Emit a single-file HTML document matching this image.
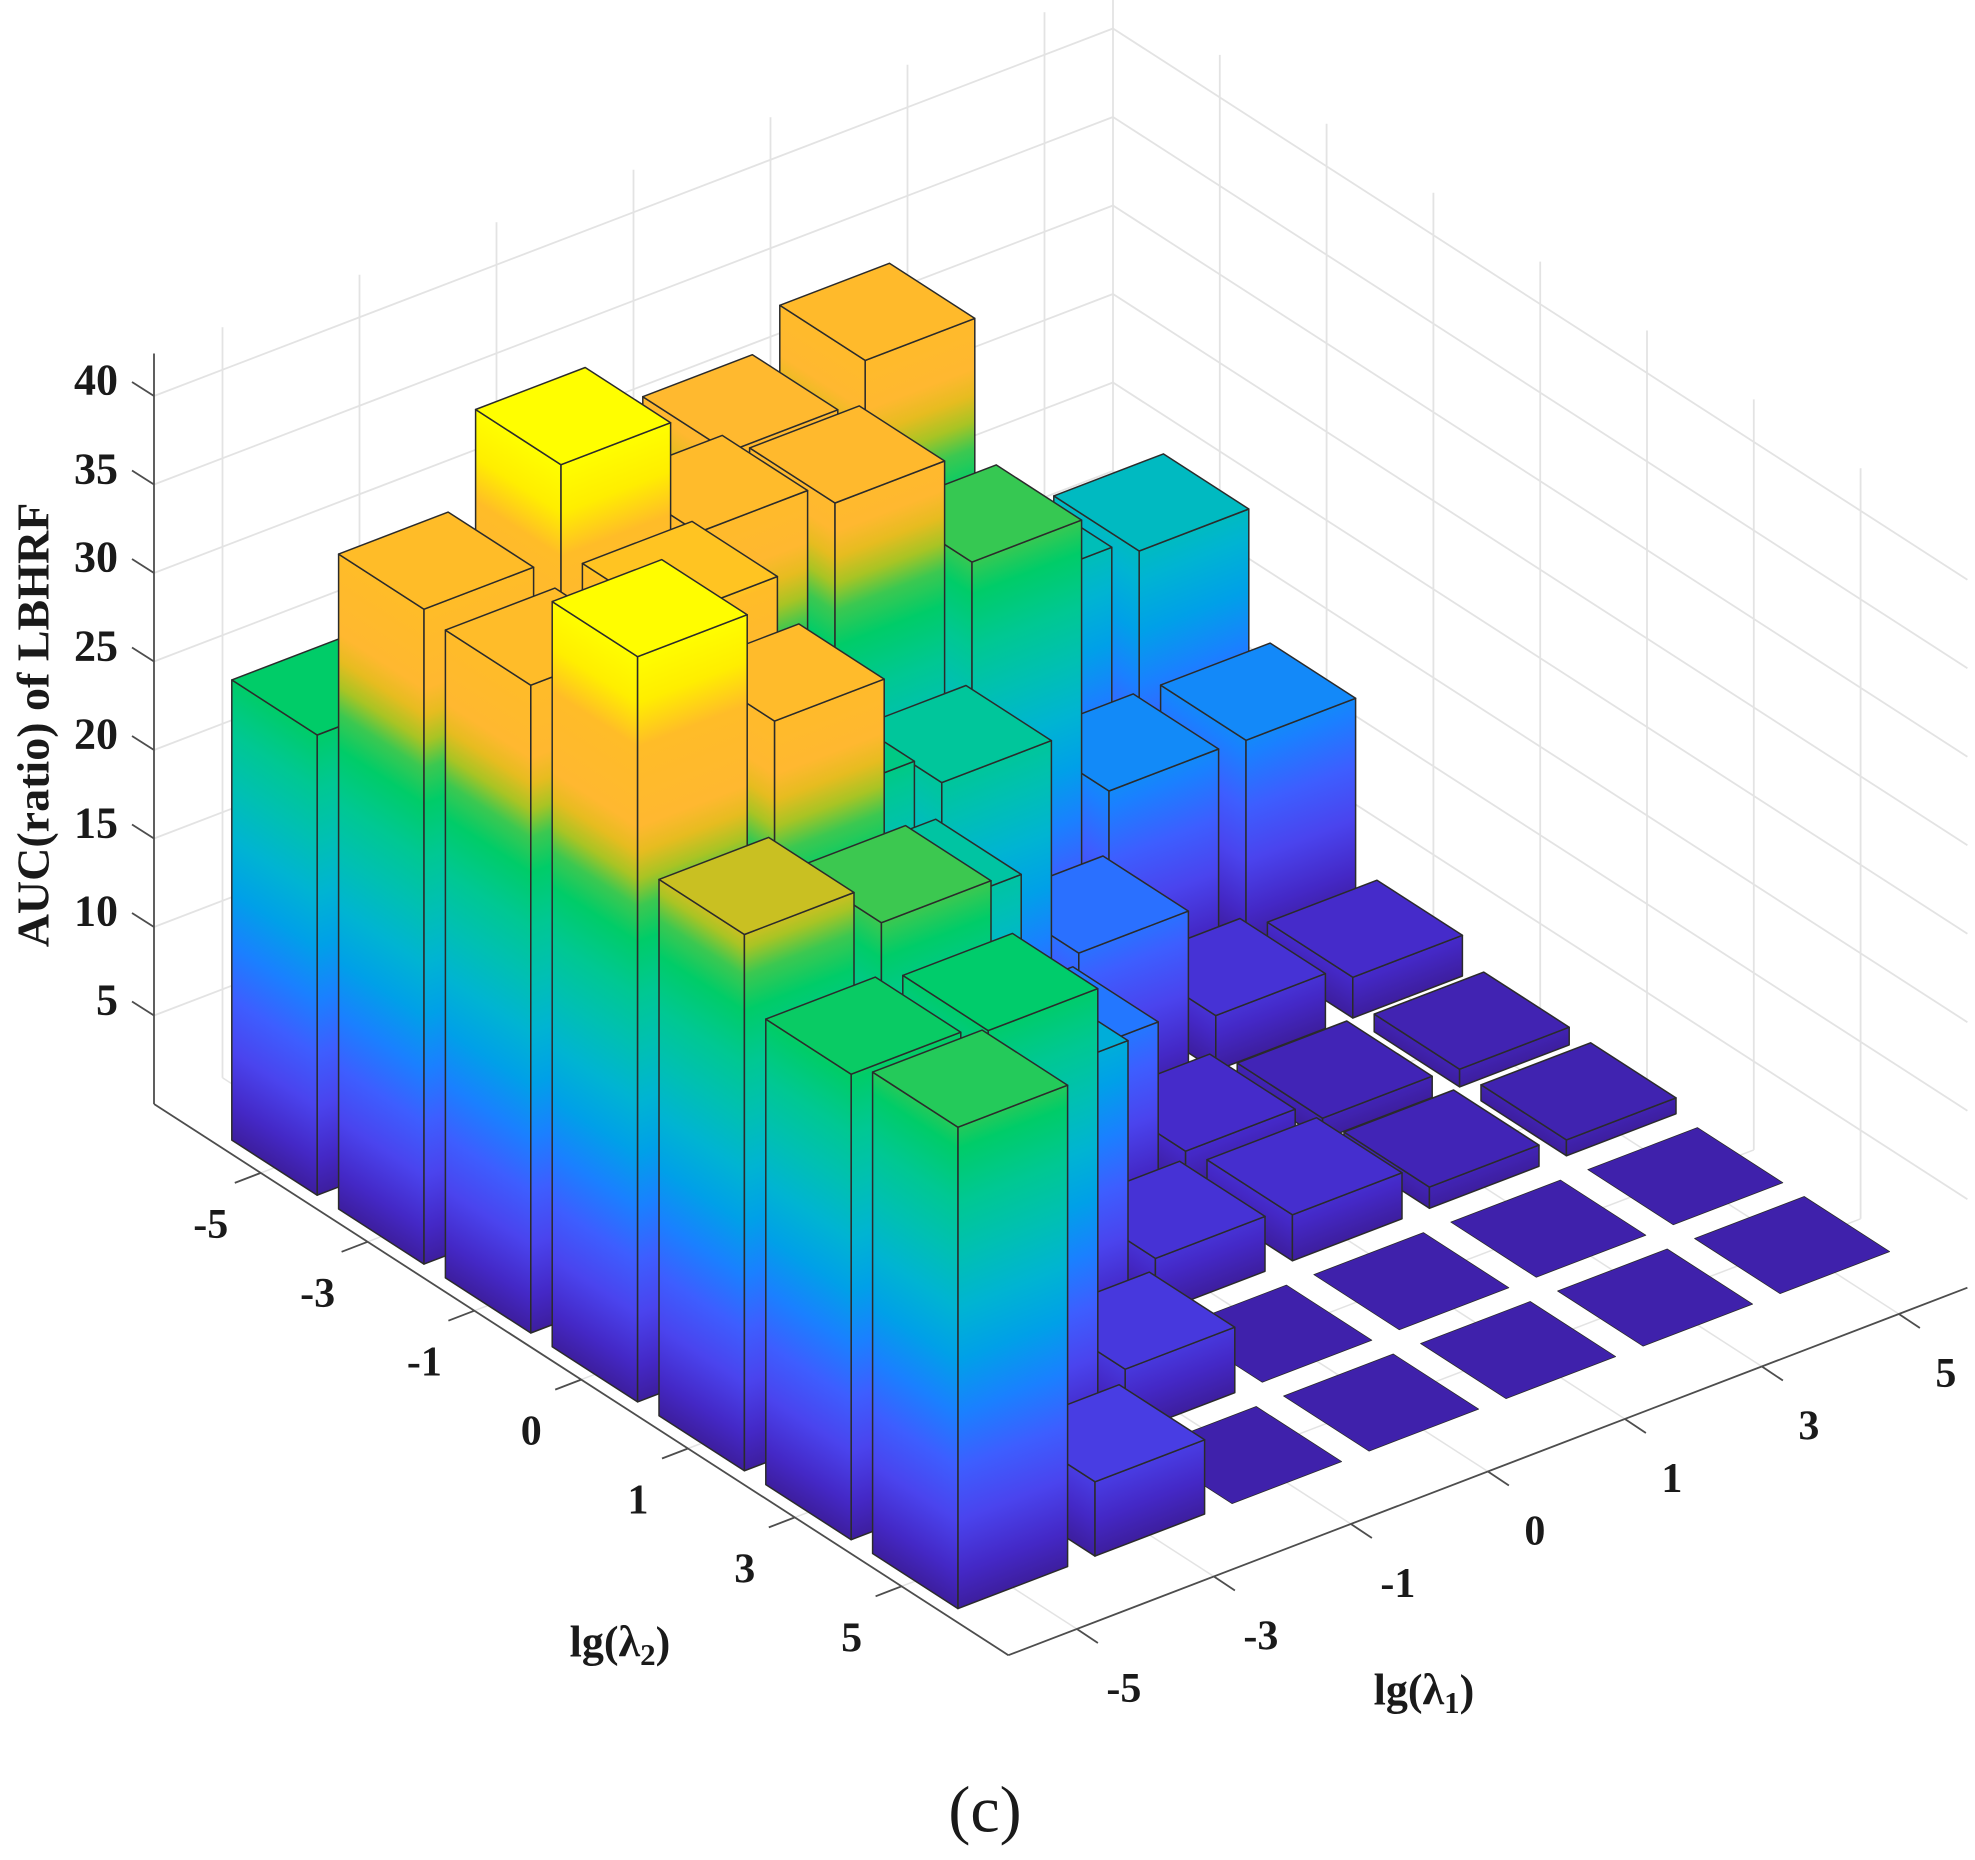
<!DOCTYPE html>
<html><head><meta charset="utf-8"><style>
html,body{margin:0;padding:0;background:#fff;}
svg{display:block;}
text{font-family:"Liberation Serif",serif;fill:#1a1a1a;}
</style></head><body>
<svg id="s" xmlns="http://www.w3.org/2000/svg" width="1975" height="1860" viewBox="0 0 1975 1860">
<rect width="1975" height="1860" fill="#fff"/>
<defs id="d"></defs>
<g id="grid"></g>
<g id="bars"></g>
<g id="txt" font-weight="bold" font-size="42">
<g font-size="44">
<text x="118" y="1000" text-anchor="end" dominant-baseline="central">5</text>
<text x="118" y="911" text-anchor="end" dominant-baseline="central">10</text>
<text x="118" y="823" text-anchor="end" dominant-baseline="central">15</text>
<text x="118" y="734" text-anchor="end" dominant-baseline="central">20</text>
<text x="118" y="646" text-anchor="end" dominant-baseline="central">25</text>
<text x="118" y="557" text-anchor="end" dominant-baseline="central">30</text>
<text x="118" y="469" text-anchor="end" dominant-baseline="central">35</text>
<text x="118" y="380" text-anchor="end" dominant-baseline="central">40</text>
</g>
<text transform="translate(33,725) rotate(-90)" text-anchor="middle" dominant-baseline="central" font-size="46">AUC(ratio) of LBHRF</text>
<text x="620" y="1642" text-anchor="middle" dominant-baseline="central" font-size="44">lg(λ<tspan font-size="31" dy="12">2</tspan><tspan dy="-12">)</tspan></text>
<text x="1424" y="1690" text-anchor="middle" dominant-baseline="central" font-size="44">lg(λ<tspan font-size="31" dy="12">1</tspan><tspan dy="-12">)</tspan></text>
<text x="985" y="1810" text-anchor="middle" dominant-baseline="central" font-size="66" font-weight="normal">(c)</text>
</g>
</svg>
<script>
(function(){
var NS="http://www.w3.org/2000/svg";
function P(i,j,z){return [154+(i+1)*106.8+(j+0.5)*137, 1104+(i+1)*68.9-(j+0.5)*52.5-17.7*z];}
function el(tag,attrs,parent){var e=document.createElementNS(NS,tag);for(var k in attrs)e.setAttribute(k,attrs[k]);parent.appendChild(e);return e;}
var grid=document.getElementById('grid'),bars=document.getElementById('bars'),defs=document.getElementById('d'),txt=document.getElementById('txt');
function line(a,b,c,w,p){el('line',{x1:a[0].toFixed(1),y1:a[1].toFixed(1),x2:b[0].toFixed(1),y2:b[1].toFixed(1),stroke:c,'stroke-width':w},p||grid);}
var ZT=42.4,GC='#e3e3e3';
for(var j=0;j<7;j++)line(P(-1,j,0),P(7,j,0),GC,1.5);
for(var i=0;i<7;i++)line(P(i,-0.5,0),P(i,6.5,0),GC,1.5);
for(var z=5;z<=40;z+=5){line(P(-1,-0.5,z),P(-1,6.5,z),GC,1.8);line(P(-1,6.5,z),P(7,6.5,z),GC,1.8);}
for(var j=0;j<7;j++)line(P(-1,j,0),P(-1,j,ZT),GC,1.8);
for(var i=0;i<7;i++)line(P(i,6.5,0),P(i,6.5,ZT),GC,1.8);
line(P(-1,6.5,0),P(-1,6.5,ZT),GC,1.8);
var AC='#4d4d4d';
line(P(-1,-0.5,0),P(-1,-0.5,ZT),AC,1.8);
line(P(-1,-0.5,0),P(7,-0.5,0),AC,1.8);
line(P(7,-0.5,0),P(7,6.5,0),AC,1.8);
for(var z=5;z<=40;z+=5){var a=P(-1,-0.5,z);line(a,[a[0]-22,a[1]-14],AC,1.8);}
var labs=['-5','-3','-1','0','1','3','5'];
for(var i=0;i<7;i++){var a=P(i,-0.5,0);line(a,[a[0]-26,a[1]+10],AC,1.8);
 var t=el('text',{x:(a[0]-50).toFixed(1),y:(a[1]+52).toFixed(1),'text-anchor':'middle','dominant-baseline':'central'},txt);t.textContent=labs[i];}
for(var j=0;j<7;j++){var a=P(7,j,0);line(a,[a[0]+21,a[1]+14],AC,1.8);
 var t=el('text',{x:(a[0]+47).toFixed(1),y:(a[1]+60).toFixed(1),'text-anchor':'middle','dominant-baseline':'central'},txt);t.textContent=labs[j];}
var CM=[[0,'#3d1e9e'],[2,'#4428c6'],[5,'#4a44ee'],[8,'#3d5eff'],[11,'#1a80ff'],[14,'#00a0e8'],[17,'#00b4d2'],[20,'#00c0b2'],[23,'#00c892'],[26,'#00cc68'],[28,'#3cc850'],[29.5,'#a8c424'],[31,'#e6bc20'],[32.5,'#ffb830'],[37,'#ffbc28'],[39.5,'#ffee00'],[42.4,'#ffff00']];
function hex(c){return [parseInt(c.substr(1,2),16),parseInt(c.substr(3,2),16),parseInt(c.substr(5,2),16)];}
function cmap(z){if(z<=0)return CM[0][1];for(var k=1;k<CM.length;k++){if(z<=CM[k][0]){var a=hex(CM[k-1][1]),b=hex(CM[k][1]),f=(z-CM[k-1][0])/(CM[k][0]-CM[k-1][0]);return 'rgb('+[0,1,2].map(function(q){return Math.round(a[q]+(b[q]-a[q])*f);}).join(',')+')';}}return CM[CM.length-1][1];}
var gid=0;
function grad(p0,d){var len=Math.hypot(d[0],d[1]);var n=[d[1]/len,-d[0]/len];if(n[1]>0)n=[-n[0],-n[1]];
 var t=ZT*17.7*(-n[1]);var id='g'+(gid++);
 var g=el('linearGradient',{id:id,gradientUnits:'userSpaceOnUse',x1:p0[0].toFixed(1),y1:p0[1].toFixed(1),x2:(p0[0]+n[0]*t).toFixed(1),y2:(p0[1]+n[1]*t).toFixed(1)},defs);
 CM.forEach(function(s){el('stop',{offset:(s[0]/ZT).toFixed(4),'stop-color':s[1]},g);});return 'url(#'+id+')';}
function poly(pts,fill,sw){el('polygon',{points:pts.map(function(p){return p[0].toFixed(1)+','+p[1].toFixed(1);}).join(' '),fill:fill,stroke:'#2b2b2b','stroke-width':sw,'stroke-linejoin':'round'},bars);}
var H=[[26,28,30,33.1,35.3,19.4,18.6],[37,42.2,35.4,34.1,27.8,11.9,11.8],[36.6,37.4,24,22.2,9.6,3.1,2.3],[42.1,35.5,21.5,10.2,2.3,1.2,1.0],[30.3,28,16,3.1,2.6,1.2,0.9],[26.3,25.8,3.7,0,0,0,0],[27.2,4.2,0,0,0,0,0]];
var cells=[];for(var i=0;i<7;i++)for(var j=0;j<7;j++)cells.push([i,j]);
cells.sort(function(a,b){return (a[0]-a[1])-(b[0]-b[1])||a[0]-b[0];});
var w=0.4,u=[106.8,68.9],v=[137,-52.5];
cells.forEach(function(c){var i=c[0],j=c[1],h=H[i][j];
 if(h<=0.01){poly([P(i-w,j-w,0),P(i+w,j-w,0),P(i+w,j+w,0),P(i-w,j+w,0)],'#3f21ab',0.8);return;}
 var f0=P(i+w,j-w,0);
 poly([P(i-w,j-w,0),f0,P(i+w,j-w,h),P(i-w,j-w,h)],grad(f0,u),1.5);
 poly([f0,P(i+w,j+w,0),P(i+w,j+w,h),P(i+w,j-w,h)],grad(f0,v),1.5);
 poly([P(i-w,j-w,h),P(i+w,j-w,h),P(i+w,j+w,h),P(i-w,j+w,h)],cmap(h),1.5);
});
})();
</script>
</body></html>
